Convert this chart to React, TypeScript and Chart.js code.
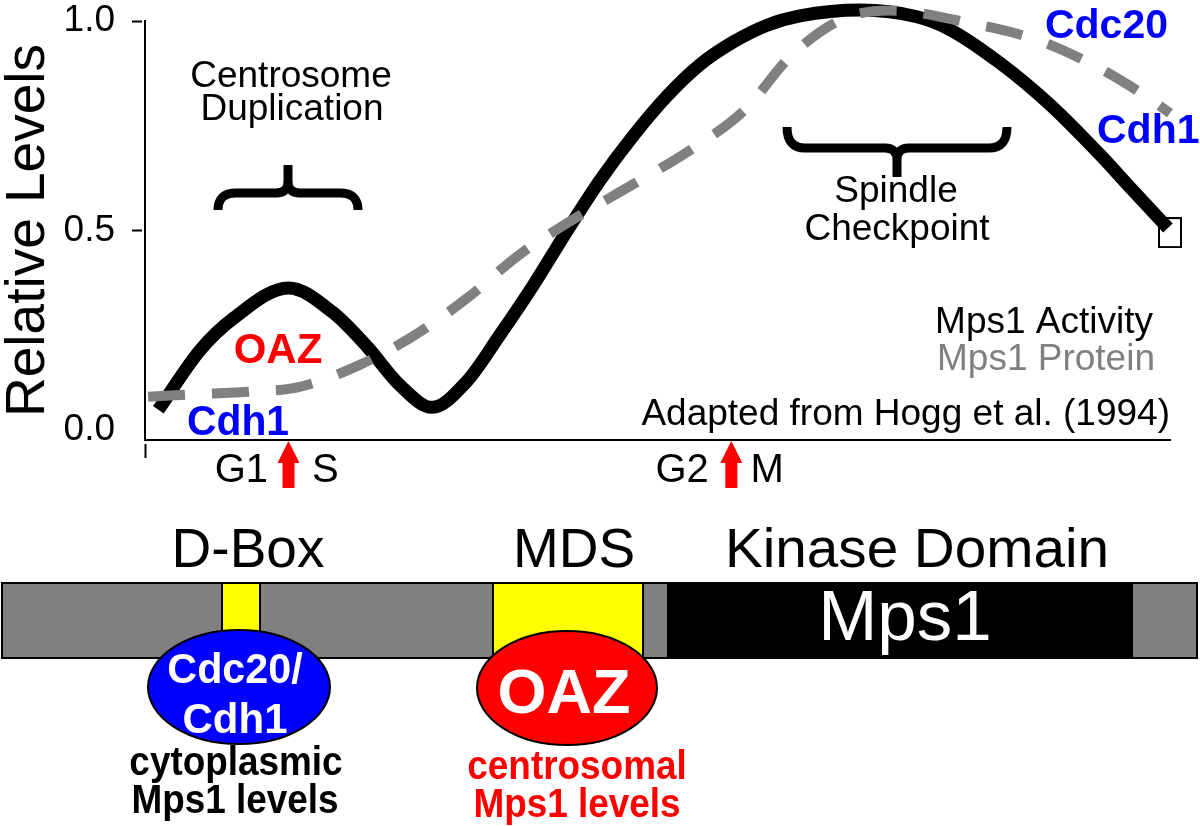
import React, { useEffect, useRef } from 'react';
import { Chart, registerables } from 'chart.js';

Chart.register(...registerables);

const FONT = '"Liberation Sans", Arial, Helvetica, sans-serif';

// Cell-cycle position (0-100) vs relative level
const activityX = [1.3, 5.4, 8.6, 14.0, 18.3, 21.7, 24.9, 28.0, 31.4, 34.6, 37.9, 41.2, 44.4, 47.6, 50.9, 54.1, 57.4, 60.7, 63.9, 69.8, 75.3, 78.5, 83.4, 88.3, 93.2, 96.4, 99.8];
const activityY = [0.072, 0.215, 0.29, 0.363, 0.305, 0.222, 0.13, 0.078, 0.14, 0.25, 0.37, 0.5, 0.62, 0.725, 0.82, 0.895, 0.95, 0.99, 1.012, 1.026, 1.01, 0.98, 0.9, 0.8, 0.68, 0.595, 0.506];
const proteinX = [0.3, 5.4, 10.2, 15.1, 21.0, 26.3, 31.5, 36.4, 42.0, 47.6, 53.5, 58.6, 62.9, 68.1, 72.7, 80.5, 87.0, 92.9, 98.3, 100];
const proteinY = [0.103, 0.11, 0.115, 0.127, 0.18, 0.25, 0.34, 0.44, 0.53, 0.61, 0.697, 0.79, 0.914, 1.005, 1.025, 0.995, 0.955, 0.89, 0.81, 0.78];
const endMarkerX = [100];
const endMarkerY = [0.495];

const yTickValues = [0, 0.5, 1];
const yTickLabels = ['0.0', '0.5', '1.0'];
const xTickValues = [0, 9.4, 17.6, 52.4, 60.7];
const xTickLabels = ['', 'G1', 'S', 'G2', 'M'];
const phaseTransitions = [14, 57.2];

function txt(ctx: CanvasRenderingContext2D, s: string, x: number, y: number, size: number, weight: string, color: string, align: CanvasTextAlign, sx = 1) {
  ctx.save();
  ctx.font = `${weight} ${size}px ${FONT}`;
  ctx.fillStyle = color;
  ctx.textAlign = align;
  ctx.textBaseline = 'alphabetic';
  ctx.translate(x, y);
  ctx.scale(sx, 1);
  ctx.fillText(s, 0, 0);
  ctx.restore();
}

function drawBrace(ctx: CanvasRenderingContext2D, x1: number, x2: number, yEnd: number, yMid: number, yTip: number, rEnd: number, rTip: number) {
  const xc = (x1 + x2) / 2;
  const dir = Math.sign(yTip - yMid);
  ctx.beginPath();
  ctx.moveTo(x1, yEnd);
  ctx.quadraticCurveTo(x1, yMid, x1 + rEnd, yMid);
  ctx.lineTo(xc - rTip, yMid);
  ctx.quadraticCurveTo(xc, yMid, xc, yMid + dir * rTip);
  ctx.lineTo(xc, yTip);
  ctx.moveTo(x2, yEnd);
  ctx.quadraticCurveTo(x2, yMid, x2 - rEnd, yMid);
  ctx.lineTo(xc + rTip, yMid);
  ctx.quadraticCurveTo(xc, yMid, xc, yMid + dir * rTip);
  ctx.stroke();
}

function makeSquare() {
  const c = document.createElement('canvas');
  c.width = 24;
  c.height = 31;
  const g = c.getContext('2d')!;
  g.fillStyle = '#fff';
  g.fillRect(1, 1, 22, 29);
  g.strokeStyle = '#000';
  g.lineWidth = 2;
  g.strokeRect(1, 1, 22, 29);
  return c;
}

const annotations = {
  id: 'annotations',
  beforeDraw(chart: any) {
    // nudge the "0.0" label up off the x axis line, as in the original figure
    const ys = chart.scales.y;
    const items = ys.getLabelItems();
    for (const it of items) {
      if (it.label === '0.0' && !it._nudged) {
        it.options.translation = [it.options.translation[0], it.options.translation[1] - 10];
        it._nudged = true;
      }
    }
  },
  beforeDatasetsDraw(chart: any) {
    const ctx: CanvasRenderingContext2D = chart.ctx;
    ctx.save();
    ctx.strokeStyle = '#000';
    ctx.lineWidth = 9;
    ctx.lineCap = 'butt';
    ctx.lineJoin = 'round';
    drawBrace(ctx, 218, 358, 210, 193, 165, 18, 12);
    drawBrace(ctx, 787, 1007, 127, 148, 177, 18, 12);

    txt(ctx, 'Centrosome', 291, 87, 37, 'normal', '#000', 'center');
    txt(ctx, 'Duplication', 292, 120, 37, 'normal', '#000', 'center');
    txt(ctx, 'Spindle', 896, 202, 37, 'normal', '#000', 'center');
    txt(ctx, 'Checkpoint', 897, 240, 37, 'normal', '#000', 'center');

    txt(ctx, 'OAZ', 278, 363, 42, 'bold', '#ff0000', 'center');
    txt(ctx, 'Cdh1', 238, 435, 43, 'bold', '#0000ff', 'center', 0.95);
    txt(ctx, 'Cdc20', 1168, 38, 41, 'bold', '#0000ff', 'right');
    txt(ctx, 'Cdh1', 1097, 143, 41, 'bold', '#0000ff', 'left');

    txt(ctx, 'Mps1 Activity', 1153, 333, 37, 'normal', '#000', 'right');
    txt(ctx, 'Mps1 Protein', 1155, 370, 37, 'normal', '#808080', 'right');
    txt(ctx, 'Adapted from Hogg et al. (1994)', 1170, 425, 37, 'normal', '#000', 'right');
    ctx.restore();
  },
  afterDraw(chart: any) {
    const ctx: CanvasRenderingContext2D = chart.ctx;
    const xs = chart.scales.x;
    ctx.save();
    // red phase-transition arrows
    ctx.fillStyle = '#ff0000';
    for (const v of phaseTransitions) {
      const px = xs.getPixelForValue(v);
      ctx.beginPath();
      ctx.moveTo(px, 441);
      ctx.lineTo(px + 11, 463);
      ctx.lineTo(px + 6, 463);
      ctx.lineTo(px + 6, 488);
      ctx.lineTo(px - 6, 488);
      ctx.lineTo(px - 6, 463);
      ctx.lineTo(px - 11, 463);
      ctx.closePath();
      ctx.fill();
    }

    // protein domain schematic
    txt(ctx, 'D-Box', 248, 567, 55, 'normal', '#000', 'center');
    txt(ctx, 'MDS', 574, 567, 55, 'normal', '#000', 'center');
    txt(ctx, 'Kinase Domain', 917, 567, 55, 'normal', '#000', 'center', 1.03);

    const top = 583, h = 75;
    ctx.fillStyle = '#808080';
    ctx.fillRect(2, top, 1195, h);
    ctx.lineWidth = 2;
    ctx.strokeStyle = '#000';
    ctx.fillStyle = '#ffff00';
    ctx.fillRect(222, top, 38, h);
    ctx.strokeRect(222, top, 38, h);
    ctx.fillRect(493, top, 150, h);
    ctx.strokeRect(493, top, 150, h);
    ctx.fillStyle = '#000';
    ctx.fillRect(667, top, 466, h);
    ctx.strokeRect(2, top, 1195, h);

    txt(ctx, 'Mps1', 905, 640, 71, 'normal', '#fff', 'center');

    ctx.lineWidth = 2;
    ctx.strokeStyle = '#000';
    ctx.fillStyle = '#0000ff';
    ctx.beginPath();
    ctx.ellipse(239, 687, 91, 57, 0, 0, Math.PI * 2);
    ctx.fill();
    ctx.stroke();
    ctx.fillStyle = '#ff0000';
    ctx.beginPath();
    ctx.ellipse(567, 688, 90, 57, 0, 0, Math.PI * 2);
    ctx.fill();
    ctx.stroke();

    txt(ctx, 'Cdc20/', 235, 683, 43, 'bold', '#fff', 'center', 0.96);
    txt(ctx, 'Cdh1', 235, 733, 42, 'bold', '#fff', 'center');
    txt(ctx, 'OAZ', 564, 713, 63, 'bold', '#fff', 'center');

    txt(ctx, 'cytoplasmic', 236, 775, 41, 'bold', '#000', 'center', 0.9);
    txt(ctx, 'Mps1 levels', 235, 813, 41, 'bold', '#000', 'center', 0.9);
    txt(ctx, 'centrosomal', 577, 779, 41, 'bold', '#ff0000', 'center', 0.9);
    txt(ctx, 'Mps1 levels', 577, 817, 41, 'bold', '#ff0000', 'center', 0.9);
    ctx.restore();
  },
};

export default function App() {
  const ref = useRef<HTMLCanvasElement>(null);
  useEffect(() => {
    if (!ref.current) return;
    const chart = new Chart(ref.current, {
      type: 'line',
      data: {
        datasets: [
          {
            label: 'Mps1 Protein',
            data: proteinX.map((x, i) => ({ x, y: proteinY[i] })),
            borderColor: '#808080',
            borderWidth: 10,
            borderDash: [37, 27],
            borderCapStyle: 'butt',
            pointRadius: 0,
            cubicInterpolationMode: 'monotone',
            fill: false,
            clip: false,
          },
          {
            label: 'Mps1 Activity',
            data: activityX.map((x, i) => ({ x, y: activityY[i] })),
            borderColor: '#000',
            borderWidth: 13,
            borderCapStyle: 'butt',
            pointRadius: 0,
            cubicInterpolationMode: 'monotone',
            fill: false,
            clip: false,
          },
          {
            label: 'end',
            data: endMarkerX.map((x, i) => ({ x, y: endMarkerY[i] })),
            showLine: false,
            pointStyle: makeSquare(),
            pointRadius: 12,
            clip: false,
          },
        ],
      } as any,
      options: {
        responsive: false,
        animation: false,
        devicePixelRatio: 1,
        layout: { padding: { left: 0, top: 21, right: 30, bottom: 326 } },
        plugins: { legend: { display: false }, tooltip: { enabled: false } },
        scales: {
          x: {
            type: 'linear',
            min: 0,
            max: 100,
            afterBuildTicks: (s: any) => {
              s.ticks = xTickValues.map((v) => ({ value: v }));
            },
            afterFit: (s: any) => {
              s.height = 60;
              s.paddingLeft = 0;
              s.paddingRight = 0;
            },
            border: { display: true, color: '#000', width: 2 },
            grid: {
              drawOnChartArea: false,
              drawTicks: true,
              tickLength: 18,
              tickWidth: 2,
              tickColor: (c: any) => (c.tick && c.tick.value === 0 ? '#000' : 'rgba(0,0,0,0)'),
              tickBorderDash: [0, 3, 15, 50],
            },
            ticks: {
              autoSkip: false,
              maxRotation: 0,
              callback: (_v: any, i: number) => xTickLabels[i],
              color: '#000',
              font: { family: FONT, size: 40, lineHeight: 1 },
              padding: -7,
            },
          },
          y: {
            type: 'linear',
            min: 0,
            max: 1,
            afterBuildTicks: (s: any) => {
              s.ticks = yTickValues.map((v) => ({ value: v }));
            },
            afterFit: (s: any) => {
              s.width = 145;
              s.paddingTop = 0;
              s.paddingBottom = 0;
            },
            border: { display: true, color: '#000', width: 2 },
            grid: {
              drawOnChartArea: false,
              drawTicks: true,
              tickLength: 13,
              tickWidth: 2,
              tickColor: (c: any) => (c.tick && c.tick.value === 0 ? 'rgba(0,0,0,0)' : '#000'),
              tickBorderDash: [10, 50],
            },
            ticks: {
              callback: (_v: any, i: number) => yTickLabels[i],
              color: '#000',
              font: { family: FONT, size: 37, lineHeight: 1 },
              padding: 17,
            },
            title: {
              display: true,
              text: 'Relative Levels',
              color: '#000',
              font: { family: FONT, size: 55, lineHeight: 1.05 },
              padding: 0,
            },
          },
        },
      } as any,
      plugins: [annotations],
    });
    return () => chart.destroy();
  }, []);

  return (
    <div style={{ position: 'fixed', left: 0, top: 0, width: 1200, height: 826, background: '#fff' }}>
      <canvas ref={ref} width={1200} height={826} style={{ display: 'block', width: 1200, height: 826 }} />
    </div>
  );
}
